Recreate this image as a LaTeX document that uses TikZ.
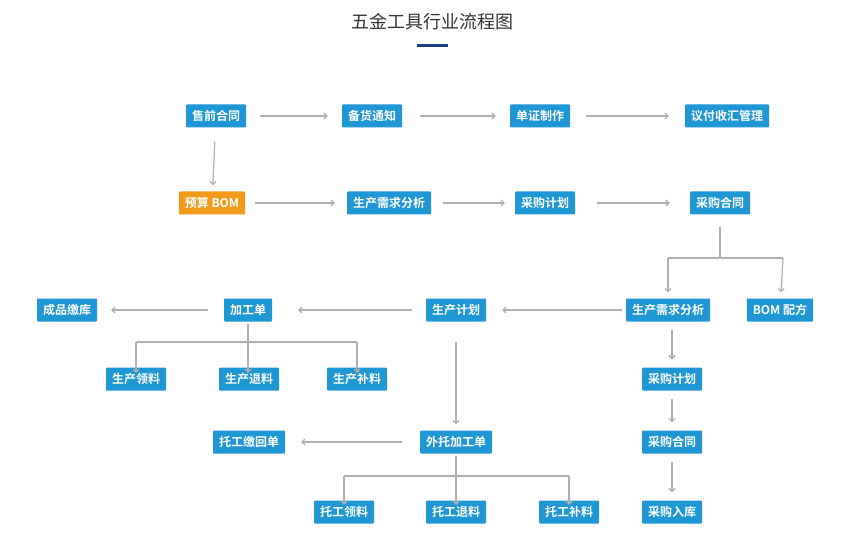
\documentclass[tikz,border=0pt]{standalone}
\usepackage{fontspec}
\newfontfamily\cjk{Noto Sans CJK SC}
\newfontfamily\cjkb{Noto Sans CJK SC Bold}
\definecolor{boxblue}{HTML}{1F97D4}
\definecolor{boxorange}{HTML}{F29B1B}
\definecolor{arrowgray}{HTML}{AFAFAF}
\definecolor{titleblue}{HTML}{1B3F7E}
\usetikzlibrary{arrows.meta}
\begin{document}
\begin{tikzpicture}[x=1pt,y=-1pt,
	box/.style={fill=boxblue,text=white,font=\cjkb\fontsize{12}{12}\selectfont,
		minimum height=23pt,inner xsep=6pt,rounded corners=1pt},
	obox/.style={box,fill=boxorange},
	flow/.style={draw=arrowgray,line width=1.2pt,-{Straight Barb[length=3pt,width=6pt]}},
	line/.style={draw=arrowgray,line width=1.2pt}]
\useasboundingbox (0,0) rectangle (858,545);
\node[font=\cjk\fontsize{18}{18}\selectfont,text=black!80] (title) at (432,22) {五金工具行业流程图};
\fill[titleblue] (417,44.5) rectangle (448,47.5);

% row 1
\node[box] (sqht) at (216,116) {售前合同};
\node[box] (bhtz) at (372,116) {备货通知};
\node[box] (dzzz) at (540,116) {单证制作};
\node[box] (yfsh) at (727,116) {议付收汇管理};
% row 2
\node[obox] (ysbom) at (212,203) {预算 BOM};
\node[box] (scxq) at (389,203) {生产需求分析};
\node[box] (cgjh) at (545,203) {采购计划};
\node[box] (cght) at (720,203) {采购合同};
% row 3
\node[box] (cpjk) at (67,310) {成品缴库};
\node[box] (jgd) at (248,310) {加工单};
\node[box] (scjh) at (456,310) {生产计划};
\node[box] (scxqb) at (668,310) {生产需求分析};
\node[box] (bompf) at (780,310) {BOM 配方};
% row 4
\node[box] (scll) at (136,379) {生产领料};
\node[box] (sctl) at (249,379) {生产退料};
\node[box] (scbl) at (357,379) {生产补料};
\node[box] (cgjhb) at (672,379) {采购计划};
% row 5
\node[box] (tgjh) at (249,442) {托工缴回单};
\node[box] (wtjg) at (456,442) {外托加工单};
\node[box] (cghtb) at (672,442) {采购合同};
% row 6
\node[box] (tgll) at (344,512) {托工领料};
\node[box] (tgtl) at (456,512) {托工退料};
\node[box] (tgbl) at (569,512) {托工补料};
\node[box] (cgrk) at (672,512) {采购入库};

\coordinate (jgdm) at (248,342);
\coordinate (wtjgm) at (456,476);
\coordinate (cghtm) at (720,258);

\draw[flow,shorten <=14pt,shorten >=14pt] (sqht) -- (bhtz);
\draw[flow,shorten <=18pt,shorten >=14pt] (bhtz) -- (dzzz);
\draw[flow,shorten <=16pt,shorten >=16pt] (dzzz) -- (yfsh);
\draw[flow,shorten <=14pt,shorten >=6pt] (sqht) -- (ysbom);
\draw[flow,shorten <=10pt,shorten >=12pt] (ysbom) -- (scxq);
\draw[flow,shorten <=12pt,shorten >=10pt] (scxq) -- (cgjh);
\draw[flow,shorten <=22pt,shorten >=20pt] (cgjh) -- (cght);
\draw[line,shorten <=12pt] (cght) -- (cghtm);
\draw[line] (668,258) -- (783,258);
\draw[flow,shorten >=6pt] (668,258) -- (scxqb);
\draw[flow,shorten >=6pt] (783,258) -- (bompf);
\draw[flow,shorten <=4pt,shorten >=16pt] (scxqb) -- (scjh);
\draw[flow,shorten <=14pt,shorten >=26pt] (scjh) -- (jgd);
\draw[flow,shorten <=16pt,shorten >=14pt] (jgd) -- (cpjk);
\draw[line,shorten <=2pt] (jgd) -- (jgdm);
\draw[line] (136,342) -- (357,342);
\foreach \n/\x in {scll/136,sctl/248,scbl/357}
	\draw[flow,shorten >=6pt] (\x,342) -- (\x,379);
\draw[flow,shorten <=20pt,shorten >=6pt] (scjh) -- (wtjg);
\draw[flow,shorten <=18pt,shorten >=16pt] (wtjg) -- (tgjh);
\draw[line,shorten <=2pt] (wtjg) -- (wtjgm);
\draw[line] (344,476) -- (569,476);
\foreach \x in {344,456,569}
	\draw[flow,shorten >=7pt] (\x,476) -- (\x,512);
\draw[flow,shorten <=8pt,shorten >=8pt] (672,322) -- (cgjhb);
\draw[flow,shorten <=8pt,shorten >=8pt] (cgjhb) -- (cghtb);
\draw[flow,shorten <=8pt,shorten >=8pt] (cghtb) -- (cgrk);
\end{tikzpicture}
\end{document}
